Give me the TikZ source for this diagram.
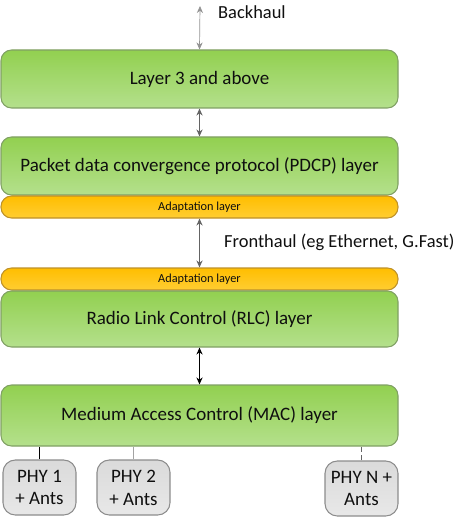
\documentclass[tikz,border=0pt]{standalone}
\usepackage{fontspec}
\setmainfont{Carlito}
\usepackage{tikz}
\usetikzlibrary{arrows.meta,positioning,calc}
\definecolor{lygreen}{RGB}{146,208,80}
\definecolor{lygreenlt}{RGB}{180,224,140}
\definecolor{lygreenbd}{RGB}{128,160,100}
\definecolor{adorange}{RGB}{255,190,0}
\definecolor{adorangelt}{RGB}{255,205,50}
\definecolor{adorangebd}{RGB}{190,145,40}
\definecolor{phygray}{RGB}{218,218,218}
\definecolor{phygraylt}{RGB}{232,232,232}
\definecolor{phygraybd}{RGB}{140,140,140}
\definecolor{txtdark}{RGB}{15,15,15}
\definecolor{arrgray}{RGB}{100,100,100}

\begin{document}
\begin{tikzpicture}[
  x=0.02cm, y=-0.02cm,
  every node/.style={font=\fontsize{10.5}{12}\selectfont,text=txtdark},
  layerbox/.style={draw=lygreenbd,line width=0.6pt,rounded corners=6pt,
                   top color=lygreen,bottom color=lygreenlt,
                   minimum width=397*0.02cm,inner sep=0pt,
                   font=\fontsize{10.8}{12}\selectfont},
  adaptbox/.style={draw=adorangebd,line width=0.6pt,rounded corners=6pt,
                   top color=adorange,bottom color=adorangelt,
                   minimum width=397*0.02cm,minimum height=22*0.02cm,inner sep=0pt,
                   font=\fontsize{7}{8}\selectfont},
  phybox/.style={draw=phygraybd,line width=0.6pt,rounded corners=7pt,
                 top color=phygray,bottom color=phygraylt,
                 minimum width=73*0.02cm,minimum height=55*0.02cm,
                 align=center,inner sep=0pt,
                 font=\fontsize{10.8}{13}\selectfont},
  arr/.style={{Stealth[length=4pt,width=3.5pt]}-{Stealth[length=4pt,width=3.5pt]},
              line width=0.7pt,arrgray},
]
  \useasboundingbox (0,0) rectangle (474,520);

  % Protocol layers
  \node[layerbox,minimum height=58*0.02cm] (l3) at (199.5,79) {Layer 3 and above};
  \node[layerbox,minimum height=58*0.02cm] (pdcp) at (199.5,166)
    {Packet data convergence protocol (PDCP) layer};
  \node[adaptbox] (adtop) at (199.5,207) {Adaptation layer};
  \node[adaptbox] (adbot) at (199.5,279) {Adaptation layer};
  \node[layerbox,minimum height=56*0.02cm] (rlc) at (199.5,319)
    {Radio Link Control (RLC) layer};
  \node[layerbox,minimum height=61*0.02cm] (mac) at (199.5,415.5)
    {Medium Access Control (MAC) layer};

  % Radio heads
  \node[phybox] (phy1) at (39.5,487.5) {PHY 1\\+ Ants};
  \node[phybox] (phy2) at (133.5,487.5) {PHY 2\\+ Ants};
  \node[phybox] (phyn) at (361.5,488.5) {PHY N +\\Ants};

  % Backhaul
  \coordinate (bh) at (200,6);
  \draw[arr,line width=0.4pt,arrgray!70] (bh) -- (l3.north);
  \node[anchor=west] (bhlabel) at (212,12) {Backhaul};

  % Links between layers
  \draw[arr] (l3) -- (pdcp);
  \draw[arr] (adtop) -- (adbot);
  \node[anchor=west] (fhlabel) at (218,242) {Fronthaul (eg Ethernet, G.Fast)};
  \draw[arr,black,line width=0.9pt] (rlc) -- (mac);

  % MAC to PHYs
  \draw[black,line width=0.8pt] (phy1.north) -- (phy1.north |- mac.south);
  \draw[phygraybd!80,line width=0.4pt] (phy2.north) -- (phy2.north |- mac.south);
  \draw[arrgray,line width=0.6pt,dashed,dash pattern=on 3pt off 2pt]
    (phyn.north) -- (phyn.north |- mac.south);
\end{tikzpicture}
\end{document}
